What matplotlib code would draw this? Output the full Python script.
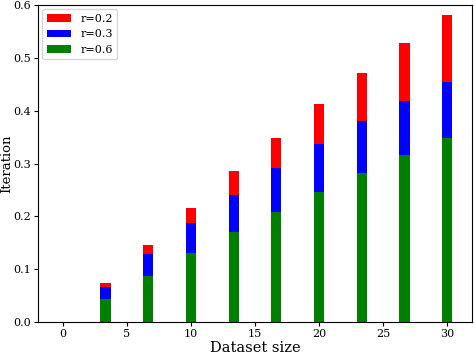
import matplotlib
matplotlib.use('Agg')
import matplotlib.pyplot as plt
import numpy as np

plt.rcParams['font.family'] = 'DejaVu Serif'

# dataset size positions (bar at 0 has zero height)
sizes = [0, 10/3, 20/3, 10, 40/3, 50/3, 20, 70/3, 80/3, 30]
r02 = [0, 0.074, 0.146, 0.216, 0.285, 0.349, 0.412, 0.472, 0.528, 0.581]
r03 = [0, 0.066, 0.128, 0.187, 0.241, 0.291, 0.337, 0.380, 0.419, 0.455]
r06 = [0, 0.044, 0.087, 0.130, 0.170, 0.209, 0.247, 0.283, 0.316, 0.349]

fig = plt.figure(figsize=(4.74, 3.54), dpi=100)
ax = fig.add_axes([0.08, 0.09, 0.916, 0.896])

ax.bar(sizes, r02, width=0.8, color='red', label='r=0.2')
ax.bar(sizes, r03, width=0.8, color='blue', label='r=0.3')
ax.bar(sizes, r06, width=0.8, color='green', label='r=0.6')

ax.set_ylim(0, 0.6)
ax.set_xticks([0, 5, 10, 15, 20, 25, 30])
ax.tick_params(labelsize=8, length=3, pad=2)
ax.set_xlabel('Dataset size', fontsize=10.5)
ax.set_ylabel('Iteration', fontsize=9.5)
ax.xaxis.set_label_coords(0.5, -0.06)
ax.yaxis.set_label_coords(-0.058, 0.5)
ax.legend(loc='upper left', fontsize=8, handlelength=2.2, borderaxespad=0.4)

fig.savefig('out.png', dpi=100)
